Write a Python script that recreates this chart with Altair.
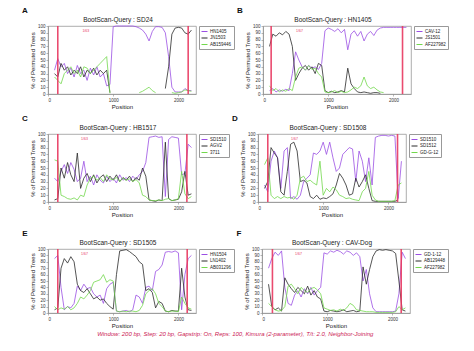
import altair as alt
import pandas as pd

N = None
POS = list(range(100, 2201, 50))

PURPLE = "#9b4fe3"
BLACK = "#2a2a2a"
GREEN = "#72d84c"
RED = "#e8375f"
FONT = "Liberation Sans"

LETTERS = ["A", "B", "C", "D", "E", "F"]
QUERIES = ["SD24", "HN1405", "HB1517", "SD1508", "SD1505", "CAV-Dog"]
NAMES = [
    ["HN1405", "JN1503", "AB159446"],
    ["CAV-12", "JS1501", "AF227982"],
    ["SD1510", "AGV2", "3711"],
    ["SD1510", "SD1512", "GD-G-12"],
    ["HN1504", "LN1402", "AB031296"],
    ["GD-1-12", "AB129448", "AF227982"],
]
RED_LINES = [[150, 2150], [125, 2140], [150, 2130], [150, 2140], [150, 2135], [160, 2135]]
NOTE_POS = [580, 560, 560, 560, 560, 560]
NOTE_TEXT = ["1/63", "1/67", "1/63", "1/67", "1/67", "1/67"]
FOOTER = "Window: 200 bp, Step: 20 bp, Gapstrip: On, Reps: 100, Kimura (2-parameter), T/t: 2.0, Neighbor-Joining"

# ---- Panel A ----
A_P = [35,52,40,45,30,38,25,42,30,35,20,38,28,40,25,30,12,14,99,100,100,100,100,100,100,99,97,94,88,78,92,99,99,98,90,55,10,3,3,3,8,5,5]
A_K = [30,25,45,35,40,28,35,30,40,25,35,30,38,28,35,30,35,2,N,N,N,N,N,N,N,N,N,N,N,N,N,N,N,N,8,40,88,97,98,97,90,88,94]
A_G = [25,20,15,30,35,40,30,35,25,40,38,30,35,40,45,50,55,1,N,N,N,N,N,N,N,N,2,4,7,10,5,2,N,N,N,N,2,1,2,3,6,5,4]
# ---- Panel B ----
B_P = [5,8,3,6,4,7,5,30,62,50,40,35,42,38,40,36,45,93,97,95,92,96,90,95,65,88,93,85,92,78,88,92,86,94,97,98,98,98,98,98,98,98,98]
B_K = [70,88,85,90,87,92,88,70,20,30,38,42,35,40,30,45,42,5,2,4,2,3,5,3,38,15,8,3,2,3,2,1,2,2,1,N,N,N,N,N,N,N,N]
B_G = [12,5,8,3,6,4,8,5,25,38,40,35,42,36,38,30,25,3,2,3,5,2,4,2,3,6,10,8,12,25,12,8,10,6,3,2,N,N,N,N,N,N,N]
# ---- Panel C ----
C_P = [35,30,45,55,42,58,48,30,35,60,30,38,25,40,32,28,38,30,35,28,40,32,36,30,38,33,40,45,58,95,96,97,95,96,8,92,96,95,94,40,42,85,80]
C_K = [3,5,50,35,58,40,30,72,20,35,42,30,40,28,36,40,30,38,32,40,30,36,32,38,30,36,32,50,38,3,2,1,3,2,88,5,2,3,4,15,45,10,12]
C_G = [62,60,10,8,5,4,6,3,10,8,25,35,38,32,36,30,40,34,33,36,30,35,32,34,30,33,28,10,8,3,2,2,3,2,4,5,2,3,5,45,12,5,8]
# ---- Panel D ----
D_P = [25,15,60,75,65,20,75,80,5,8,4,10,30,35,40,72,70,75,88,70,88,65,45,50,70,75,80,78,30,75,60,30,65,25,95,97,98,98,97,98,97,5,60]
D_K = [20,30,80,72,65,15,10,45,85,88,75,30,32,28,8,5,10,4,6,5,8,12,25,42,35,25,10,12,35,22,30,40,20,2,1,1,1,1,1,1,1,3,N]
D_G = [55,65,10,5,8,5,8,6,7,4,10,35,38,30,32,28,25,60,10,20,15,22,18,10,8,5,6,4,3,2,15,20,45,10,3,1,1,1,1,1,2,25,28]
# ---- Panel E ----
E_P = [85,90,40,5,10,8,15,42,35,45,38,40,30,25,28,15,38,45,48,3,2,3,4,2,5,28,25,15,40,42,35,65,68,75,95,96,95,97,94,5,60,85,90]
E_K = [5,8,70,85,78,88,80,45,35,32,38,30,22,25,20,22,15,10,6,60,97,98,99,96,92,88,80,76,35,38,32,8,18,15,3,2,4,3,3,70,25,5,4]
E_G = [10,5,8,6,10,5,8,15,25,22,28,35,48,50,52,60,48,52,50,3,2,3,2,3,3,2,4,12,30,35,38,30,15,10,3,2,3,3,2,25,15,8,6]
# ---- Panel F ----
F_P = [70,85,95,90,97,40,15,12,28,35,25,38,30,40,28,35,40,94,92,97,95,98,96,92,97,95,90,94,88,50,68,30,8,2,2,2,2,2,2,3,30,95,85]
F_K = [45,10,5,8,3,55,45,38,32,40,35,30,42,28,35,25,22,3,2,4,3,2,3,5,2,3,4,2,3,72,45,68,88,97,99,98,99,98,97,93,50,5,3]
F_G = [15,10,5,3,4,10,42,45,38,30,40,35,32,38,40,36,30,8,6,4,5,3,6,4,8,15,12,5,4,3,2,2,2,1,1,1,1,1,1,2,10,5,8]

SERIES = [
    [A_P, A_K, A_G], [B_P, B_K, B_G], [C_P, C_K, C_G],
    [D_P, D_K, D_G], [E_P, E_K, E_G], [F_P, F_K, F_G],
]

W = 148
HEIGHTS = [68, 68, 64]


def panel(i, h):
    rows = []
    for name, vals in zip(NAMES[i], SERIES[i]):
        seg = 0
        prev_none = False
        for p, v in zip(POS, vals):
            if v is None:
                prev_none = True
                continue
            if prev_none:
                seg += 1
                prev_none = False
            rows.append({"pos": p, "val": v, "series": name, "seg": f"{name}-{seg}"})
    df = pd.DataFrame(rows)
    xs = alt.Scale(domain=[0, 2270], nice=False, zero=False)
    ys = alt.Scale(domain=[0, 100], nice=False)
    lines = alt.Chart(df).mark_line(strokeWidth=0.8).encode(
        x=alt.X("pos:Q", scale=xs,
                axis=alt.Axis(values=[0, 500, 1000, 1500, 2000], title="Position", grid=False,
                              format="d", labelOverlap=False)),
        y=alt.Y("val:Q", scale=ys,
                axis=alt.Axis(values=list(range(0, 101, 10)), title="% of Permuted Trees", grid=False,
                              format="d", labelOverlap=False)),
        color=alt.Color("series:N", scale=alt.Scale(domain=NAMES[i], range=[PURPLE, BLACK, GREEN]),
                        legend=alt.Legend(title=None)),
        detail="seg:N",
    )
    rules = alt.Chart(pd.DataFrame({"pos": RED_LINES[i]})).mark_rule(
        color=RED, strokeWidth=1.6, opacity=0.9
    ).encode(x=alt.X("pos:Q", scale=xs))
    note = alt.Chart(pd.DataFrame({"pos": [NOTE_POS[i]], "t": [NOTE_TEXT[i]]})).mark_text(
        color=RED, fontSize=3.5, font=FONT
    ).encode(x=alt.X("pos:Q", scale=xs), y=alt.value(5), text="t:N")
    letter = alt.Chart(pd.DataFrame({"t": [LETTERS[i]]})).mark_text(
        fontSize=8, fontWeight="bold", font=FONT, color="#111"
    ).encode(x=alt.value(-23), y=alt.value(-15), text="t:N")
    title = alt.Chart(pd.DataFrame({"t": [f"BootScan-Query :  {QUERIES[i]}"]})).mark_text(
        fontSize=6.5, font=FONT, color="#222"
    ).encode(x=alt.value(W / 2 - 4), y=alt.value(-6), text="t:N")
    return alt.layer(lines, rules, note, letter, title).properties(width=W, height=h)


rows = []
for r in range(3):
    rows.append(
        alt.hconcat(panel(2 * r, HEIGHTS[r]), panel(2 * r + 1, HEIGHTS[r]), spacing=1)
        .resolve_scale(color="independent")
    )

top_two = alt.vconcat(rows[0], rows[1], spacing=4).resolve_scale(color="independent")

chart = alt.vconcat(top_two, rows[2], spacing=11).resolve_scale(color="independent").properties(
    padding={"left": 21, "top": 6, "right": 0, "bottom": 0},
    title=alt.TitleParams(FOOTER, orient="bottom", anchor="middle", fontSize=6, fontStyle="italic",
                          fontWeight="normal", color="#cc2255", font=FONT, offset=2),
).configure_view(stroke="#999", strokeWidth=0.8).configure_axis(
    labelFontSize=4.5, titleFontSize=6, tickSize=2, labelPadding=1, titlePadding=2,
    domainColor="#888", tickColor="#888", labelColor="#333", titleColor="#222",
    titleFontWeight="normal", labelFont=FONT, titleFont=FONT, domainWidth=0.6, tickWidth=0.6,
).configure_legend(
    orient="right", offset=3, padding=2, strokeColor="#999", labelFontSize=4.5, labelFont=FONT,
    symbolType="stroke", symbolSize=36, symbolStrokeWidth=1, rowPadding=0.5, labelOffset=2,
    labelColor="#222",
)

chart.save("out.html", embed_options={"renderer": "svg", "actions": False})
